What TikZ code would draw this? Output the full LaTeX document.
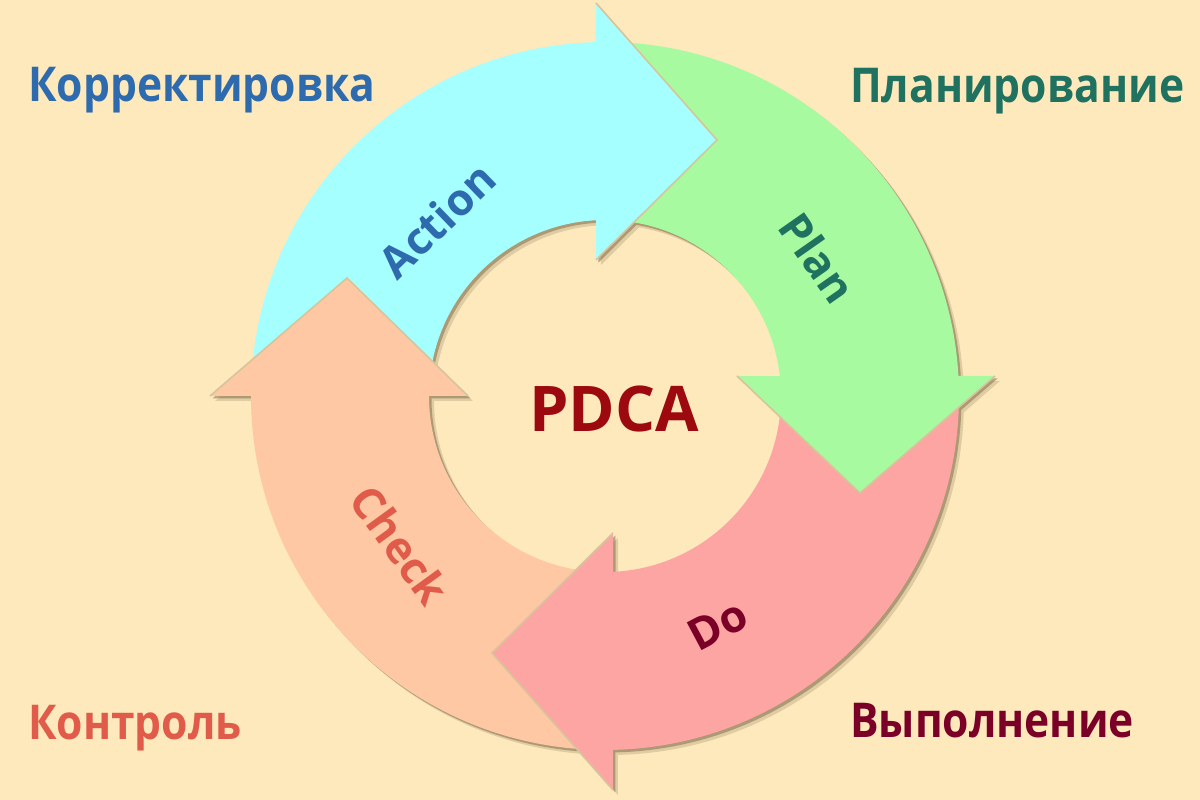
\documentclass[tikz,border=0pt]{standalone}
\usepackage{fontspec}
\setmainfont{Open Sans}
\newfontfamily\narrowsans{Open Sans}[FakeStretch=0.887]
\definecolor{bg}{HTML}{FDE9BC}
\definecolor{cyanA}{HTML}{A6FFFF}
\definecolor{greenP}{HTML}{A8FAA0}
\definecolor{pinkD}{HTML}{FDA5A3}
\definecolor{peachC}{HTML}{FDC8A3}
\definecolor{blueT}{HTML}{2E6BAE}
\definecolor{tealT}{HTML}{1F7260}
\definecolor{maroonT}{HTML}{7A0028}
\definecolor{redT}{HTML}{E05B4A}
\definecolor{pdcaT}{HTML}{9C0A10}
\definecolor{shadowc}{HTML}{8C7856}
\definecolor{edgec}{HTML}{D8C49A}
\newcommand\ArrAction{(174.0:354) arc[start angle=174.0,end angle=91.46,radius=354] -- (-9,393) -- (112,256) -- (-9,136) -- (92.93:176) arc[start angle=92.93,end angle=168.63,radius=176] -- (-258,118) -- cycle}
\newcommand\ArrPlan{(85.74:354) arc[start angle=85.74,end angle=3.24,radius=354] -- (390,20) -- (255,-97) -- (132,20) -- (6.52:176) arc[start angle=6.52,end angle=80.55,radius=176] -- (112,256) -- cycle}
\newcommand\ArrDo{(-1.85:354) arc[start angle=-1.85,end angle=-88.71,radius=354] -- (8,-394) -- (-113,-257) -- (8,-137) -- (-87.39:176) arc[start angle=-87.39,end angle=-6.75,radius=176] -- (255,-97) -- cycle}
\newcommand\ArrCheck{(-94.58:354) arc[start angle=-94.58,end angle=-180,radius=354] -- (-395,0) -- (-258,118) -- (-137,0) -- (-176,0) arc[start angle=-180,end angle=-99.45,radius=176] -- (-113,-257) -- cycle}
\tikzset{
  shadowsoft/.style={fill=shadowc, opacity=0.25, shift={(5,-5)}},
  shadowhard/.style={fill=shadowc, opacity=0.6, shift={(2.5,-2.5)}},
  headedge/.style={draw=edgec, line width=1.6pt, line join=miter},
  biglabel/.style={font=\narrowsans\bfseries\fontsize{48}{56}\selectfont, inner sep=0pt},
  arrlabel/.style={font=\bfseries\fontsize{44}{52}\selectfont, inner sep=0pt, anchor=center}
}
\begin{document}
\begin{tikzpicture}[x=1pt,y=1pt]
\useasboundingbox (-605,-404) rectangle (595,396);
\fill[bg] (-605,-404) rectangle (595,396);
% shadows
\fill[shadowsoft] \ArrAction;
\fill[shadowsoft] \ArrPlan;
\fill[shadowsoft] \ArrDo;
\fill[shadowsoft] \ArrCheck;
\fill[shadowhard] \ArrAction;
\fill[shadowhard] \ArrPlan;
\fill[shadowhard] \ArrDo;
\fill[shadowhard] \ArrCheck;
% arrows
\fill[cyanA] \ArrAction;
\fill[greenP] \ArrPlan;
\fill[pinkD] \ArrDo;
\fill[peachC] \ArrCheck;
% head edges
\draw[headedge] (-9,393) -- (112,256) -- (-9,136);
\draw[headedge] (390,20) -- (255,-97) -- (132,20);
\draw[headedge] (8,-394) -- (-113,-257) -- (8,-137);
\draw[headedge] (-395,0) -- (-258,118) -- (-137,0);
% arrow labels
\node[arrlabel, text=blueT, rotate=44] (lAction) at (-168,176) {Action};
\node[arrlabel, text=tealT, rotate=-55] (lPlan) at (213,138) {Plan};
\node[arrlabel, text=maroonT, rotate=28] (lDo) at (113,-229) {Do};
\node[arrlabel, text=redT, rotate=-54] (lCheck) at (-205,-149) {Check};
% center
\node[font=\bfseries\fontsize{63}{70}\selectfont, text=pdcaT, inner sep=0pt, anchor=base] (pdca) at (9,-36) {PDCA};
% corner labels
\node[biglabel, text=blueT, anchor=base west] (corr) at (-577,294) {Корректировка};
\node[biglabel, text=tealT, anchor=base west] (plan) at (245,293) {Планирование};
\node[biglabel, text=redT, anchor=base west] (ctrl) at (-577,-343) {Контроль};
\node[biglabel, text=maroonT, anchor=base west] (exec) at (245,-341) {Выполнение};
\end{tikzpicture}
\end{document}
